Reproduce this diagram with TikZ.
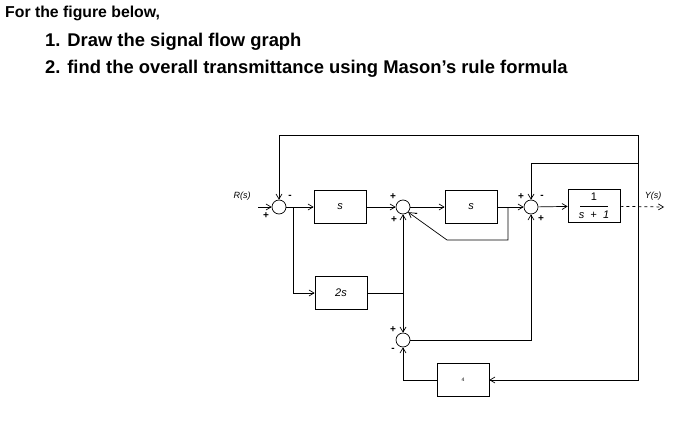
\documentclass[tikz,border=0pt]{standalone}
\usepackage{fontspec}
\setmainfont{Liberation Sans}
\usetikzlibrary{arrows.meta}
\begin{document}
\begin{tikzpicture}[x=1pt,y=-1pt,
  blk/.style={draw,line width=0.7pt,minimum width=52pt,minimum height=33pt,inner sep=0pt,font=\fontsize{11}{11}\selectfont},
  sumj/.style={draw,circle,line width=0.7pt,minimum size=14pt,inner sep=0pt},
  ln/.style={line width=0.7pt},
  ar/.style={ln,-{Straight Barb[length=5pt,width=6pt]}},
  sg/.style={font=\fontsize{11}{11}\selectfont,inner sep=0pt},
  hd/.style={anchor=base west,inner sep=0pt,font=\fontsize{18.4}{18}\selectfont\bfseries}]
\useasboundingbox (0,0) rectangle (684,436);
\node[hd,font=\fontsize{15.8}{16}\selectfont\bfseries] (h1) at (5,18) {For the figure below,};
\node[hd] (h2) at (45,46) {1. Draw the signal flow graph};
\node[hd] (h3) at (45,73) {2. find the overall transmittance using Mason’s rule formula};

\node[sumj] (s1) at (279,207) {};
\node[blk] (b1) at (340,207) {\itshape s};
\node[sumj] (s2) at (403,207) {};
\node[blk] (b2) at (471,207) {\itshape s};
\node[sumj] (s3) at (531,207) {};
\node[blk] (b3) at (594,206) {};
\node[sg] (num) at (594,197) {1};
\node[sg] (den) at (594,215) {\itshape s\ \ +\ \ 1};
\draw[ln] (580,206) -- (608,206);
\node[blk] (b4) at (341,293) {\itshape 2s};
\node[sumj] (s4) at (403,340) {};
\node[blk] (b5) at (463,380) {\tiny 4};

\node[font=\fontsize{9}{9}\selectfont\itshape,inner sep=0pt] (R) at (242,196) {R(s)};
\node[font=\fontsize{9}{9}\selectfont\itshape,inner sep=0pt] (Y) at (653,196) {Y(s)};
\coordinate (rin) at (258,207);
\coordinate (yout) at (664,207);

\draw[ar] (rin) -- (s1);
\draw[ar] (s1) -- (b1);
\draw[ar] (b1) -- (s2);
\draw[ar] (s2) -- (b2);
\draw[ar] (b2) -- (s3);
\draw[ar] (s3) -- (b3);
\draw[ar,dashed] (b3) -- (yout);
\draw[ar] (293,207) -- (293,293) -- (b4);
\draw[ln] (b4) -- (403,293);
\draw[ar] (403,293) -- (s2);
\draw[ar] (403,293) -- (s4);
\draw[ar] (508,207) -- (508,240) -- (447,240) -- (s2.south east);
\draw[ar] (s4) -- (531,340) -- (s3);
\draw[ar] (638,207) -- (638,135) -- (279,135) -- (s1);
\draw[ar] (638,163) -- (531,163) -- (s3);
\draw[ar] (638,207) -- (638,380) -- (b5);
\draw[ar] (b5) -- (403,380) -- (s4);

\tikzset{pm/.style={font=\fontsize{10}{10}\selectfont\bfseries,inner sep=0pt}}
\node[pm] (p1) at (266,216) {+};
\node[pm] (m1) at (290,197) {-};
\node[pm] (p2) at (393,197) {+};
\node[pm] (p3) at (394,220) {+};
\node[pm] (m2) at (416,215) {-};
\node[pm] (p4) at (521,197) {+};
\node[pm] (m3) at (542,197) {-};
\node[pm] (p5) at (541,219) {+};
\node[pm] (p6) at (393,330) {+};
\node[pm] (m4) at (393,350) {-};
\end{tikzpicture}
\end{document}
